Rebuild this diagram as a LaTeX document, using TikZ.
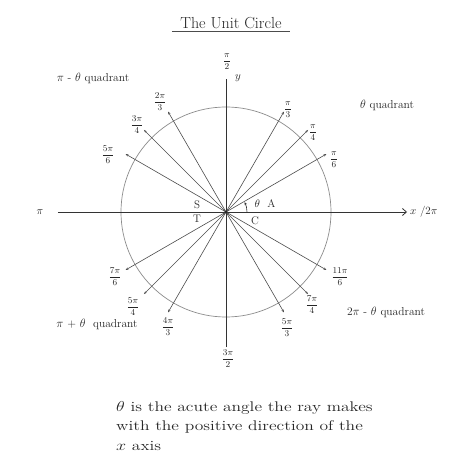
\documentclass[tikz,border=0pt]{standalone}
\usepackage{amsmath}
\usetikzlibrary{arrows.meta}
\begin{document}
\begin{tikzpicture}[x=1pt,y=1pt,
  ink/.style={text=black!85},
  rayline/.style={draw=black!70, line width=0.6pt, -{Stealth[length=3pt,width=2.2pt]}},
  axisline/.style={draw=black!80, line width=0.8pt},
  lbl/.style={ink, font=\fontsize{9.5}{11}\selectfont, inner sep=1pt},
  sym/.style={ink, font=\fontsize{11}{13}\selectfont, inner sep=1pt},
  quad/.style={ink, font=\fontsize{11.5}{13}\selectfont, inner sep=1pt},
  note/.style={ink, font=\fontsize{14}{16}\selectfont, inner sep=0pt, anchor=west, xscale=1.25, transform shape}]
\fill[white] (-226,212) rectangle (248,-259);
\useasboundingbox (-226,212) rectangle (248,-259);
\coordinate (O) at (0,0);
% circle
\draw[black!45, line width=0.7pt] (O) circle (105);
% axes
\coordinate (xl) at (-168,0);
\coordinate (xr) at (181,0);
\coordinate (yt) at (0,133);
\coordinate (yb) at (0,-135);
\draw[axisline] (xl) -- (O);
\draw[axisline, -{Straight Barb[length=4pt,width=7pt]}] (O) -- (xr);
\draw[axisline] (yb) -- (yt);
% rays
\foreach \a/\n in {30/r1,45/r2,60/r3,120/r4,135/r5,150/r6,210/r7,225/r8,240/r9,300/r10,315/r11,330/r12}{
  \coordinate (\n) at (\a:116);
  \draw[rayline] (O) -- (\n);
}
\fill[black!85] (O) circle (1.6);
% angle arc
\coordinate (arcs) at (21,0);
\draw[black!80, line width=0.6pt, -{Stealth[length=3pt,width=2.5pt]}] (arcs) arc[start angle=0, end angle=28, radius=21];
% labels
\node[lbl] (lpi2) at (1,150) {$\dfrac{\pi}{2}$};
\node[sym] (ly) at (12,134) {$y$};
\node[lbl] (l3pi2) at (2,-147) {$\dfrac{3\pi}{2}$};
\node[sym] (lpi) at (-186,0) {$\pi$};
\node[sym, anchor=west] (lx) at (183,0) {$x$ /2$\pi$};
\node[lbl] (l1) at (108,52) {$\dfrac{\pi}{6}$};
\node[lbl] (l2) at (87,79) {$\dfrac{\pi}{4}$};
\node[lbl] (l3) at (62,102) {$\dfrac{\pi}{3}$};
\node[lbl] (l4) at (-66,110) {$\dfrac{2\pi}{3}$};
\node[lbl] (l5) at (-89,87) {$\dfrac{3\pi}{4}$};
\node[lbl] (l6) at (-118,57) {$\dfrac{5\pi}{6}$};
\node[lbl] (l7) at (-111,-65) {$\dfrac{7\pi}{6}$};
\node[lbl] (l8) at (-93,-95) {$\dfrac{5\pi}{4}$};
\node[lbl] (l9) at (-58,-115) {$\dfrac{4\pi}{3}$};
\node[lbl] (l10) at (61,-116) {$\dfrac{5\pi}{3}$};
\node[lbl] (l11) at (86,-93) {$\dfrac{7\pi}{4}$};
\node[lbl] (l12) at (114,-65) {$\dfrac{11\pi}{6}$};
\node[sym] (lS) at (-29,7) {S};
\node[sym] (lT) at (-29,-7) {T};
\node[sym] (lC) at (29,-9) {C};
\node[sym] (lA) at (39,8) {$\theta$\ \ A};
% quadrant labels
\node[quad] (q2) at (-133,134) {$\pi$ - $\theta$ quadrant};
\node[quad] (q1) at (161,107) {$\theta$ quadrant};
\node[quad] (q3) at (-129,-112) {$\pi$ + $\theta$ \ quadrant};
\node[quad] (q4) at (160,-100) {2$\pi$ - $\theta$ quadrant};
% title
\node[ink, font=\fontsize{16}{18}\selectfont] (title) at (5,189) {The Unit Circle};
\coordinate (ul1) at (-54,181);
\coordinate (ul2) at (64,181);
\draw[black!70, line width=0.6pt] (ul1) -- (ul2);
% note
\node[note] (n1) at (-110,-196) {$\theta$ is the acute angle the ray makes};
\node[note] (n2) at (-110,-215) {with the positive direction of the};
\node[note] (n3) at (-110,-234) {$x$ axis};
\end{tikzpicture}
\end{document}
